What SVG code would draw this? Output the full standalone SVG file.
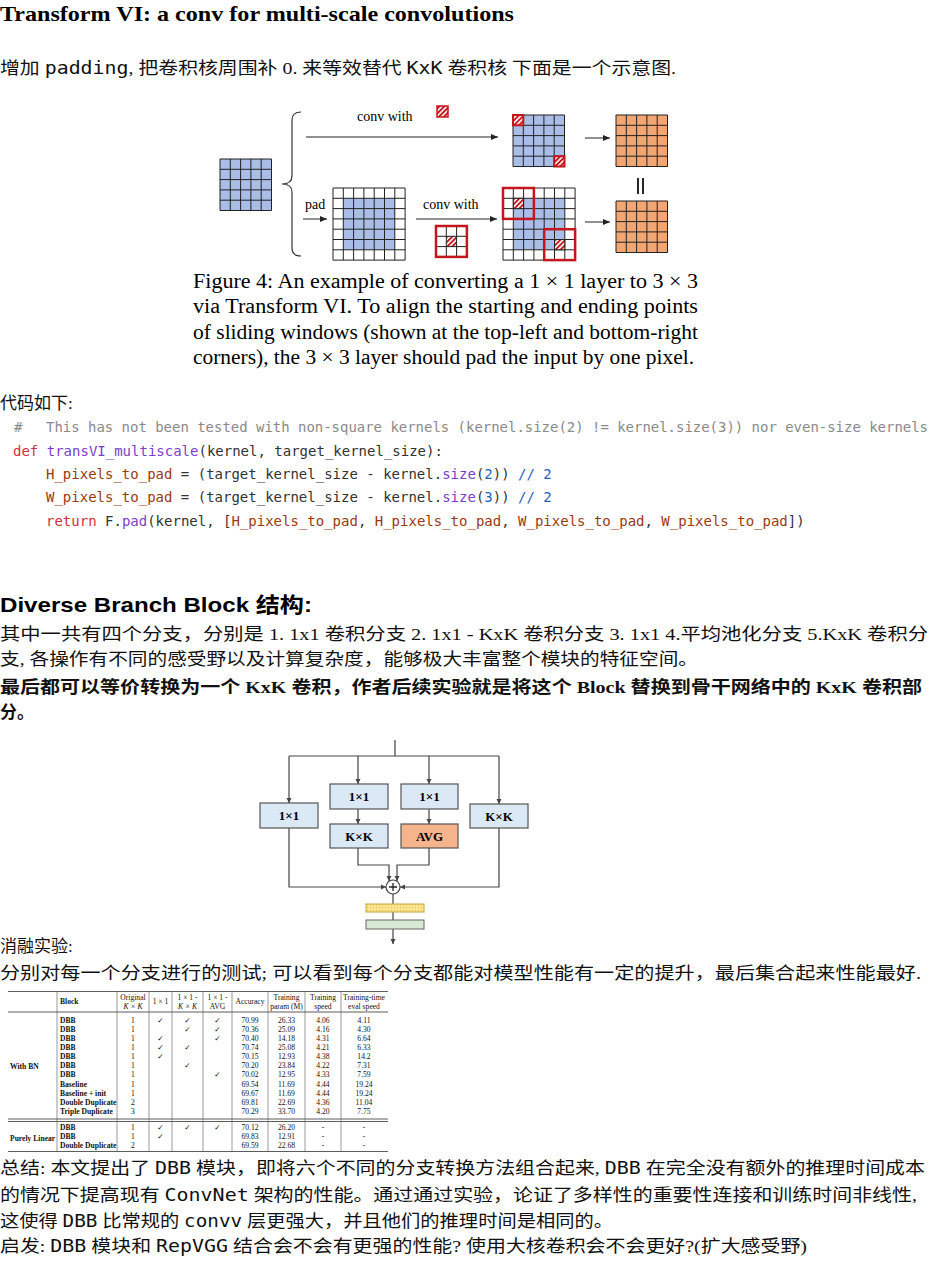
<svg xmlns="http://www.w3.org/2000/svg" xmlns:xlink="http://www.w3.org/1999/xlink" width="936" height="1288" viewBox="0 0 936 1288">
<style>
.t{font-family:"Liberation Serif","Noto Sans CJK SC",serif;fill:#000}
.cj{font-family:"Liberation Serif","Noto Sans CJK SC",serif;font-size:17px;fill:#111}
.mo{font-family:"DejaVu Sans Mono",monospace}
.code{font-family:"DejaVu Sans Mono",monospace;font-size:14px;fill:#333}
.cm{fill:#8a8a8a}.kw{fill:#d0303a}.fn{fill:#7a3fc8}.vr{fill:#9a3a10}.nm{fill:#1f5fc0}
.cap{font-family:"Liberation Serif",serif;font-size:20px;fill:#000}
.ln{stroke:#222;stroke-width:1;fill:none}
.conn{stroke:#444;stroke-width:1.2;fill:none}
.box{fill:#dbe8f5;stroke:#555;stroke-width:1.2}
.bl{font-family:"Liberation Serif",serif;font-weight:bold;font-size:13px;text-anchor:middle}
.tb{font-family:"Liberation Serif","DejaVu Sans",serif;font-size:7.6px;text-anchor:middle;fill:#111}
.tbl{font-family:"Liberation Serif",serif;font-size:7.6px;font-weight:bold;fill:#111}
.red{fill:none;stroke:#c4161c;stroke-width:2.5}
</style>
<defs>
<marker id="ar" markerWidth="8" markerHeight="8" refX="7" refY="4" orient="auto" markerUnits="userSpaceOnUse"><path d="M0,1 L7,4 L0,7 Z" fill="#222"/></marker>
<marker id="as" markerWidth="6" markerHeight="6" refX="5" refY="3" orient="auto" markerUnits="userSpaceOnUse"><path d="M0,0.5 L5,3 L0,5.5 Z" fill="#444"/></marker>
<pattern id="hatch" width="3.5" height="3.5" patternUnits="userSpaceOnUse" patternTransform="rotate(45)"><rect width="3.5" height="3.5" fill="#fff"/><rect width="1.9" height="3.5" fill="#c4161c"/></pattern>
<pattern id="dots" width="3" height="3" patternUnits="userSpaceOnUse"><rect width="3" height="3" fill="#fde58f"/><circle cx="1.5" cy="1.5" r="0.6" fill="#e0b64a"/></pattern>
<path id="g5l" d="M0 0H51.5M0 10.3H51.5M0 20.6H51.5M0 30.9H51.5M0 41.2H51.5M0 51.5H51.5M0 0V51.5M10.3 0V51.5M20.6 0V51.5M30.9 0V51.5M41.2 0V51.5M51.5 0V51.5" class="ln"/>
<g id="gb"><rect width="51.5" height="51.5" fill="#a9bde6"/><use xlink:href="#g5l"/></g>
<g id="go"><rect width="51.5" height="51.5" fill="#f2a673"/><use xlink:href="#g5l"/></g>
<g id="g7"><rect width="72.1" height="72.1" fill="#fff"/><rect x="10.3" y="10.3" width="51.5" height="51.5" fill="#a9bde6"/>
<path class="ln" d="M0 0H72.1M0 10.3H72.1M0 20.6H72.1M0 30.9H72.1M0 41.2H72.1M0 51.5H72.1M0 61.8H72.1M0 72.1H72.1M0 0V72.1M10.3 0V72.1M20.6 0V72.1M30.9 0V72.1M41.2 0V72.1M51.5 0V72.1M61.8 0V72.1M72.1 0V72.1"/></g>
<rect id="hc" width="10.3" height="10.3" fill="url(#hatch)"/>
</defs>
<rect width="936" height="1288" fill="#fff"/>

<text class="t" x="0" y="21" font-size="21" font-weight="bold" textLength="514" lengthAdjust="spacingAndGlyphs">Transform VI: a conv for multi-scale convolutions</text>
<text class="cj" x="0" y="74" textLength="676" lengthAdjust="spacingAndGlyphs">增加 <tspan class="mo">padding</tspan>, 把卷积核周围补 0. 来等效替代 <tspan class="mo">KxK</tspan> 卷积核 下面是一个示意图.</text>

<!-- figure 4 -->
<g id="figure4">
<use xlink:href="#gb" x="220" y="159"/>
<path d="M301,112 Q292,112 292,120 V176 Q292,184 282,184 Q292,184 292,192 V248 Q292,256 301,256" fill="none" stroke="#333" stroke-width="1.2"/>
<text class="t" x="357" y="121" font-size="14">conv with</text>
<rect x="437" y="106" width="11" height="11" fill="url(#hatch)" stroke="#c4161c" stroke-width="1.5"/>
<line x1="306" y1="137" x2="498" y2="137" stroke="#222" marker-end="url(#ar)"/>
<use xlink:href="#gb" x="513" y="115"/>
<use xlink:href="#hc" x="513" y="115"/><rect x="513" y="115" width="10.3" height="10.3" fill="none" stroke="#c4161c" stroke-width="2"/>
<use xlink:href="#hc" x="554.2" y="156.2"/><rect x="554.2" y="156.2" width="10.3" height="10.3" fill="none" stroke="#c4161c" stroke-width="2"/>
<line x1="585" y1="138" x2="610" y2="138" stroke="#222" marker-end="url(#ar)"/>
<use xlink:href="#go" x="616" y="115"/>
<path d="M638,178 V194 M643,178 V194" stroke="#111" stroke-width="1.8"/>
<text class="t" x="305" y="209" font-size="14">pad</text>
<line x1="303" y1="219" x2="327" y2="219" stroke="#222" marker-end="url(#ar)"/>
<use xlink:href="#g7" x="333" y="188"/>
<text class="t" x="423" y="209" font-size="14">conv with</text>
<line x1="416" y1="219" x2="497" y2="219" stroke="#222" marker-end="url(#ar)"/>
<rect x="436" y="226" width="30.9" height="30.9" fill="#fff"/>
<use xlink:href="#hc" x="446.3" y="236.3"/>
<path class="ln" d="M436 236.3H466.9M436 246.6H466.9M446.3 226V256.9M456.6 226V256.9"/>
<rect class="red" x="436" y="226" width="30.9" height="30.9"/>
<use xlink:href="#g7" x="503" y="188"/>
<use xlink:href="#hc" x="513.3" y="198.3"/>
<use xlink:href="#hc" x="554.5" y="239.5"/>
<path class="ln" d="M513.3 198.3h10.3v10.3h-10.3z M554.5 239.5h10.3v10.3h-10.3z"/>
<rect class="red" x="503" y="188" width="30.9" height="30.9"/>
<rect class="red" x="544.2" y="229.2" width="30.9" height="30.9"/>
<line x1="585" y1="222" x2="610" y2="222" stroke="#222" marker-end="url(#ar)"/>
<use xlink:href="#go" x="616" y="201"/>
</g>
<text class="cap" x="193" y="288" textLength="505" lengthAdjust="spacingAndGlyphs">Figure 4: An example of converting a 1 × 1 layer to 3 × 3</text>
<text class="cap" x="193" y="313" textLength="505" lengthAdjust="spacingAndGlyphs">via Transform VI. To align the starting and ending points</text>
<text class="cap" x="193" y="339" textLength="505" lengthAdjust="spacingAndGlyphs">of sliding windows (shown at the top-left and bottom-right</text>
<text class="cap" x="193" y="364" textLength="501" lengthAdjust="spacingAndGlyphs">corners), the 3 × 3 layer should pad the input by one pixel.</text>

<text class="cj" x="0" y="409">代码如下:</text>
<g id="code">
<text class="code cm" x="14" y="432">#</text>
<text class="code cm" x="46" y="432" textLength="882" lengthAdjust="spacingAndGlyphs">This has not been tested with non-square kernels (kernel.size(2) != kernel.size(3)) nor even-size kernels</text>
<text class="code" x="13" y="456"><tspan class="kw">def</tspan> <tspan class="fn">transVI_multiscale</tspan>(kernel, target_kernel_size):</text>
<text class="code" x="46" y="479"><tspan class="vr">H_pixels_to_pad</tspan> = (target_kernel_size - kernel.<tspan class="fn">size</tspan>(<tspan class="nm">2</tspan>)) <tspan class="nm">// 2</tspan></text>
<text class="code" x="46" y="502"><tspan class="vr">W_pixels_to_pad</tspan> = (target_kernel_size - kernel.<tspan class="fn">size</tspan>(<tspan class="nm">3</tspan>)) <tspan class="nm">// 2</tspan></text>
<text class="code" x="46" y="526"><tspan class="kw">return</tspan> F.<tspan class="fn">pad</tspan>(kernel, [<tspan class="vr">H_pixels_to_pad</tspan>, <tspan class="vr">H_pixels_to_pad</tspan>, <tspan class="vr">W_pixels_to_pad</tspan>, <tspan class="vr">W_pixels_to_pad</tspan>])</text>
</g>

<text x="0" y="612" font-family="Liberation Sans,Noto Sans CJK SC,sans-serif" font-size="21" font-weight="bold" textLength="312" lengthAdjust="spacingAndGlyphs">Diverse Branch Block 结构:</text>
<text class="cj" x="0" y="640" textLength="928" lengthAdjust="spacingAndGlyphs">其中一共有四个分支，分别是 1. 1x1 卷积分支  2. 1x1 - KxK 卷积分支 3. 1x1 4.平均池化分支 5.KxK 卷积分</text>
<text class="cj" x="0" y="665" textLength="698" lengthAdjust="spacingAndGlyphs">支, 各操作有不同的感受野以及计算复杂度，能够极大丰富整个模块的特征空间。</text>
<text class="cj" x="0" y="693" font-weight="bold" textLength="922" lengthAdjust="spacingAndGlyphs">最后都可以等价转换为一个 KxK 卷积，作者后续实验就是将这个 Block 替换到骨干网络中的 KxK 卷积部</text>
<text class="cj" x="0" y="718" font-weight="bold">分。</text>

<!-- DBB diagram -->
<g id="connectors">
<path class="conn" d="M395,740 V756 M289,756 H499"/>
<path class="conn" d="M289,756 V803" marker-end="url(#as)"/>
<path class="conn" d="M358,756 V784" marker-end="url(#as)"/>
<path class="conn" d="M429,756 V784" marker-end="url(#as)"/>
<path class="conn" d="M499,756 V804" marker-end="url(#as)"/>
<path class="conn" d="M358,809 V824" marker-end="url(#as)"/>
<path class="conn" d="M429,809 V824" marker-end="url(#as)"/>
<path class="conn" d="M289,828 V887 H386" marker-end="url(#as)"/>
<path class="conn" d="M358,848 V865 H389 V881" marker-end="url(#as)"/>
<path class="conn" d="M429,848 V865 H397 V881" marker-end="url(#as)"/>
<path class="conn" d="M499,828 V887 H400" marker-end="url(#as)"/>
<path class="conn" d="M393,894 V904 M393,912 V920"/>
<path class="conn" d="M393,929 V944" marker-end="url(#as)"/>
</g>
<g id="n-1x1-a"><rect class="box" x="260" y="803" width="58" height="25"/><text class="bl" x="289" y="820">1×1</text></g>
<g id="n-1x1-b"><rect class="box" x="330" y="784" width="58" height="25"/><text class="bl" x="359" y="801">1×1</text></g>
<g id="n-1x1-c"><rect class="box" x="401" y="784" width="57" height="25"/><text class="bl" x="429.5" y="801">1×1</text></g>
<g id="n-kxk-b"><rect class="box" x="330" y="824" width="58" height="24"/><text class="bl" x="359" y="841">K×K</text></g>
<g id="n-avg"><rect x="401" y="824" width="57" height="24" fill="#f5b48b" stroke="#555" stroke-width="1.2"/><text class="bl" x="429.5" y="841">AVG</text></g>
<g id="n-kxk-d"><rect class="box" x="470" y="804" width="58" height="24"/><text class="bl" x="499" y="821">K×K</text></g>
<g id="n-add"><circle cx="393" cy="887" r="7" fill="#fff" stroke="#444" stroke-width="1.2"/><path d="M389,887 H397 M393,883 V891" stroke="#222" stroke-width="1.3"/></g>
<g id="n-bn"><rect x="366" y="904" width="58" height="8" fill="url(#dots)" stroke="#c9a43a" stroke-width="1"/></g>
<g id="n-out"><rect x="366" y="920" width="58" height="9" fill="#d9ead3" stroke="#666" stroke-width="1"/></g>

<text class="cj" x="0" y="952">消融实验:</text>
<text class="cj" x="0" y="979" textLength="921" lengthAdjust="spacingAndGlyphs">分别对每一个分支进行的测试; 可以看到每个分支都能对模型性能有一定的提升，最后集合起来性能最好.</text>

<!-- table -->
<g id="table">
<path d="M8,991.5 H388 M8,1012 H388 M8,1119 H388 M8,1121.5 H388 M8,1151.5 H388" stroke="#333" stroke-width="0.8"/>
<path d="M57,991.5 V1151.5 M117,991.5 V1151.5 M149,991.5 V1151.5 M172,991.5 V1151.5 M203,991.5 V1151.5 M232,991.5 V1151.5 M268,991.5 V1151.5 M305,991.5 V1151.5 M341,991.5 V1151.5" stroke="#555" stroke-width="0.6"/>
<text class="tbl" x="60" y="1004">Block</text>
<text class="tb" x="133" y="1000">Original</text><text class="tb" x="133" y="1009" font-style="italic">K × K</text>
<text class="tb" x="160.5" y="1004">1 × 1</text>
<text class="tb" x="187.5" y="1000">1 × 1 -</text><text class="tb" x="187.5" y="1009" font-style="italic">K × K</text>
<text class="tb" x="217.5" y="1000">1 × 1 -</text><text class="tb" x="217.5" y="1009">AVG</text>
<text class="tb" x="250" y="1004">Accuracy</text>
<text class="tb" x="286.5" y="1000">Training</text><text class="tb" x="286.5" y="1009">param (M)</text>
<text class="tb" x="323" y="1000">Training</text><text class="tb" x="323" y="1009">speed</text>
<text class="tb" x="364" y="1000">Training-time</text><text class="tb" x="364" y="1009">eval speed</text>
<text class="tbl" x="10" y="1069">With BN</text>
<text class="tbl" x="10" y="1141">Purely Linear</text>
<g class="tbl">
<text x="60" y="1023">DBB</text><text x="60" y="1032">DBB</text><text x="60" y="1041">DBB</text><text x="60" y="1050">DBB</text><text x="60" y="1059">DBB</text><text x="60" y="1068">DBB</text><text x="60" y="1077">DBB</text><text x="60" y="1087">Baseline</text><text x="60" y="1096">Baseline + init</text><text x="60" y="1105">Double Duplicate</text><text x="60" y="1114">Triple Duplicate</text>
<text x="60" y="1130">DBB</text><text x="60" y="1139">DBB</text><text x="60" y="1148">Double Duplicate</text>
</g>
<g class="tb">
<text x="133" y="1023">1</text><text x="133" y="1032">1</text><text x="133" y="1041">1</text><text x="133" y="1050">1</text><text x="133" y="1059">1</text><text x="133" y="1068">1</text><text x="133" y="1077">1</text><text x="133" y="1087">1</text><text x="133" y="1096">1</text><text x="133" y="1105">2</text><text x="133" y="1114">3</text><text x="133" y="1130">1</text><text x="133" y="1139">1</text><text x="133" y="1148">2</text>
<text x="160.5" y="1023">✓</text><text x="160.5" y="1041">✓</text><text x="160.5" y="1050">✓</text><text x="160.5" y="1059">✓</text><text x="160.5" y="1130">✓</text><text x="160.5" y="1139">✓</text>
<text x="187.5" y="1023">✓</text><text x="187.5" y="1032">✓</text><text x="187.5" y="1050">✓</text><text x="187.5" y="1068">✓</text><text x="187.5" y="1130">✓</text>
<text x="217.5" y="1023">✓</text><text x="217.5" y="1032">✓</text><text x="217.5" y="1041">✓</text><text x="217.5" y="1077">✓</text><text x="217.5" y="1130">✓</text>
<text x="250" y="1023">70.99</text><text x="250" y="1032">70.36</text><text x="250" y="1041">70.40</text><text x="250" y="1050">70.74</text><text x="250" y="1059">70.15</text><text x="250" y="1068">70.20</text><text x="250" y="1077">70.02</text><text x="250" y="1087">69.54</text><text x="250" y="1096">69.67</text><text x="250" y="1105">69.81</text><text x="250" y="1114">70.29</text><text x="250" y="1130">70.12</text><text x="250" y="1139">69.83</text><text x="250" y="1148">69.59</text>
<text x="286.5" y="1023">26.33</text><text x="286.5" y="1032">25.09</text><text x="286.5" y="1041">14.18</text><text x="286.5" y="1050">25.08</text><text x="286.5" y="1059">12.93</text><text x="286.5" y="1068">23.84</text><text x="286.5" y="1077">12.95</text><text x="286.5" y="1087">11.69</text><text x="286.5" y="1096">11.69</text><text x="286.5" y="1105">22.69</text><text x="286.5" y="1114">33.70</text><text x="286.5" y="1130">26.20</text><text x="286.5" y="1139">12.91</text><text x="286.5" y="1148">22.68</text>
<text x="323" y="1023">4.06</text><text x="323" y="1032">4.16</text><text x="323" y="1041">4.31</text><text x="323" y="1050">4.21</text><text x="323" y="1059">4.38</text><text x="323" y="1068">4.22</text><text x="323" y="1077">4.33</text><text x="323" y="1087">4.44</text><text x="323" y="1096">4.44</text><text x="323" y="1105">4.36</text><text x="323" y="1114">4.20</text><text x="323" y="1130">-</text><text x="323" y="1139">-</text><text x="323" y="1148">-</text>
<text x="364" y="1023">4.11</text><text x="364" y="1032">4.30</text><text x="364" y="1041">6.64</text><text x="364" y="1050">6.33</text><text x="364" y="1059">14.2</text><text x="364" y="1068">7.31</text><text x="364" y="1077">7.59</text><text x="364" y="1087">19.24</text><text x="364" y="1096">19.24</text><text x="364" y="1105">11.04</text><text x="364" y="1114">7.75</text><text x="364" y="1130">-</text><text x="364" y="1139">-</text><text x="364" y="1148">-</text>
</g>
</g>

<text class="cj" x="0" y="1174" textLength="925" lengthAdjust="spacingAndGlyphs">总结: 本文提出了 <tspan class="mo">DBB</tspan> 模块，即将六个不同的分支转换方法组合起来, <tspan class="mo">DBB</tspan> 在完全没有额外的推理时间成本</text>
<text class="cj" x="0" y="1201" textLength="917" lengthAdjust="spacingAndGlyphs">的情况下提高现有 <tspan class="mo">ConvNet</tspan> 架构的性能。通过通过实验，论证了多样性的重要性连接和训练时间非线性,</text>
<text class="cj" x="0" y="1227" textLength="613" lengthAdjust="spacingAndGlyphs">这使得 <tspan class="mo">DBB</tspan> 比常规的 <tspan class="mo">convv</tspan> 层更强大，并且他们的推理时间是相同的。</text>
<text class="cj" x="0" y="1252" textLength="807" lengthAdjust="spacingAndGlyphs">启发: <tspan class="mo">DBB</tspan> 模块和 <tspan class="mo">RepVGG</tspan> 结合会不会有更强的性能? 使用大核卷积会不会更好?(扩大感受野)</text>
</svg>
